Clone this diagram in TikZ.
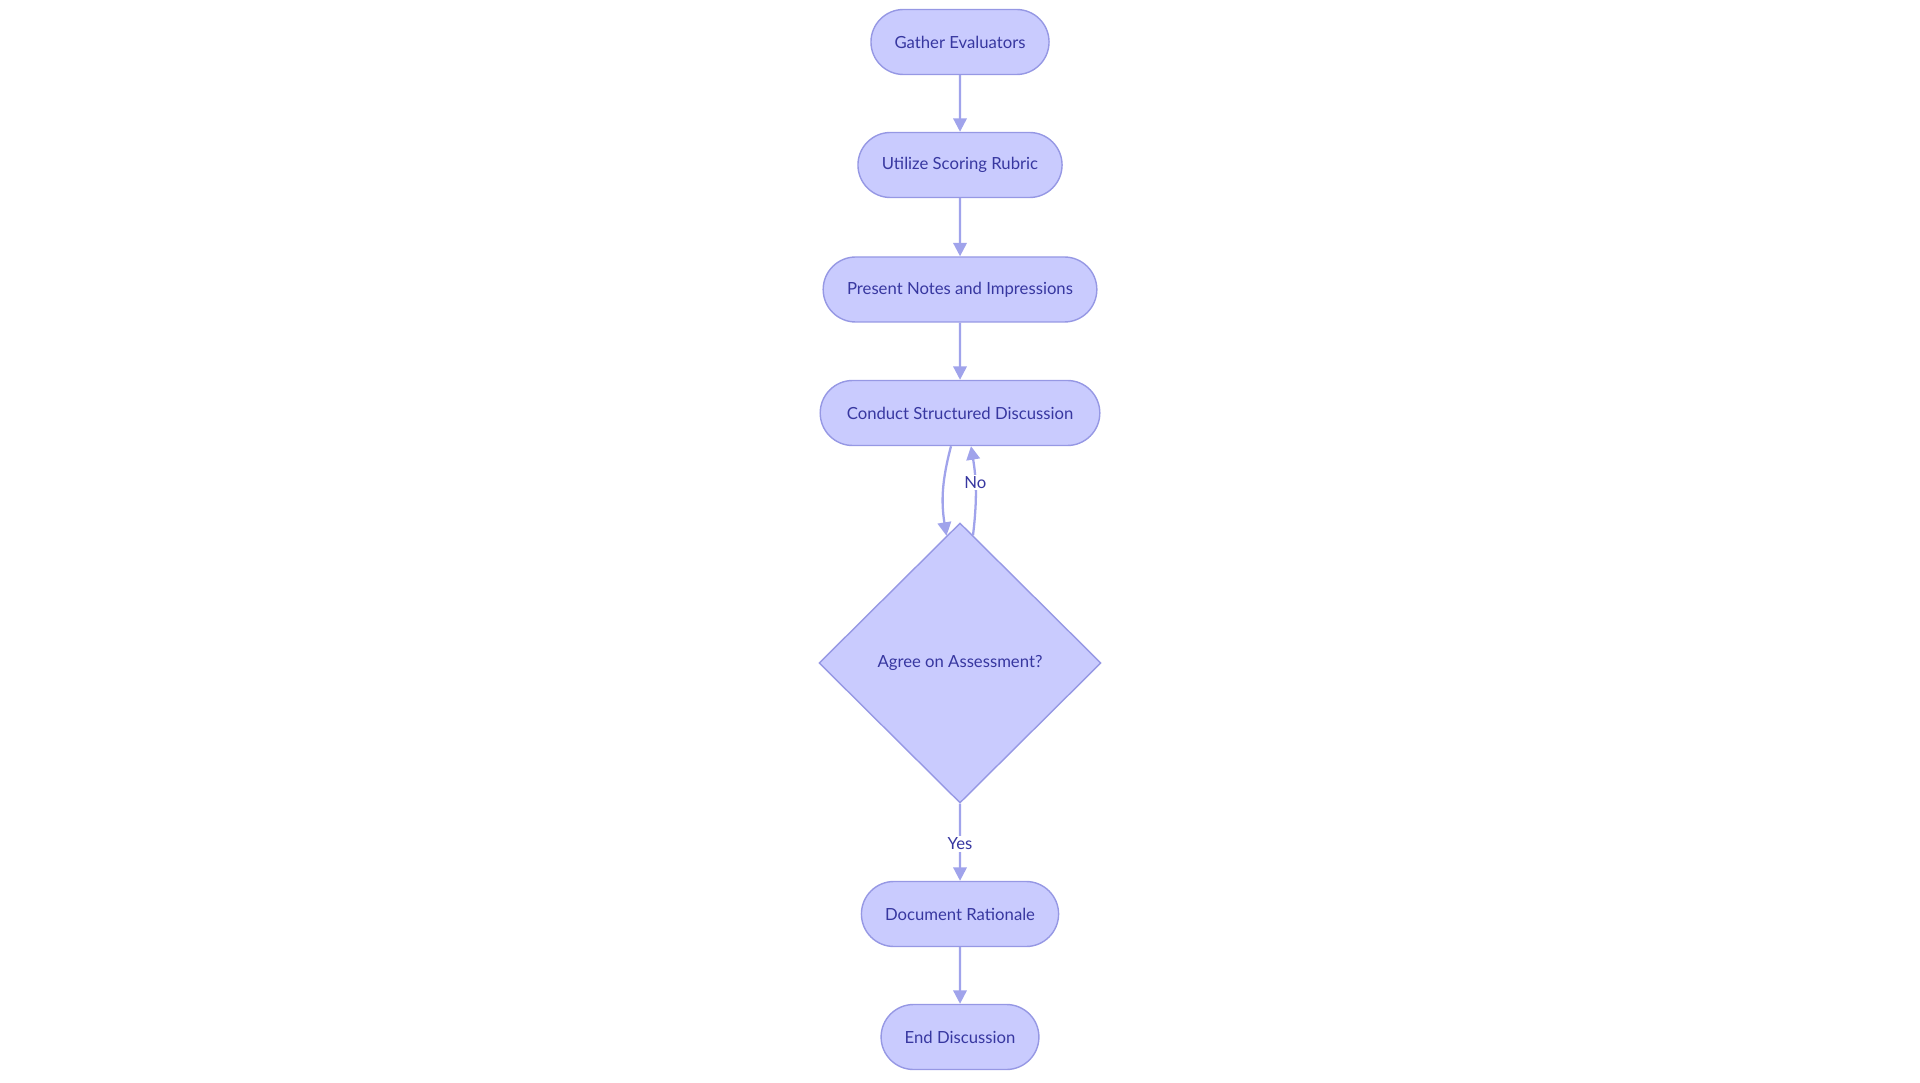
\documentclass[tikz,border=0pt]{standalone}
\usepackage{fontspec}
\setmainfont{Lato}
\usepackage{xcolor}
\usepackage{tikz}
\usetikzlibrary{shapes.geometric, shapes.misc, arrows.meta, positioning}

\definecolor{nodefill}{RGB}{201,203,254}
\definecolor{nodeline}{RGB}{150,152,228}
\definecolor{nodetext}{RGB}{55,55,160}
\definecolor{arrowline}{RGB}{160,163,235}

\begin{document}
\begin{tikzpicture}[
    stage/.style={rounded rectangle, draw=nodeline, fill=nodefill, line width=0.8pt, text=nodetext, minimum height=1.3cm, inner xsep=0.46cm, font=\fontsize{9.5}{12}\selectfont},
    decision/.style={diamond, draw=nodeline, fill=nodefill, line width=0.8pt, text=nodetext, minimum width=5.64cm, minimum height=5.6cm, inner sep=0pt, font=\fontsize{9.5}{12}\selectfont},
    flow/.style={draw=arrowline, line width=1.3pt, -{Triangle[length=0.27cm, width=0.27cm]}},
    answer/.style={fill=white, text=nodetext, inner sep=1pt, font=\fontsize{9.5}{12}\selectfont}
]

    \useasboundingbox (0,0) rectangle (38.4,-21.66);

    \node[stage] (gather) at (19.2,-0.84) {Gather Evaluators};
    \node[stage] (rubric) at (19.2,-3.30) {Utilize Scoring Rubric};
    \node[stage] (notes) at (19.2,-5.79) {Present Notes and Impressions};
    \node[stage, inner xsep=0.52cm] (discuss) at (19.2,-8.26) {Conduct Structured Discussion};
    \node[decision] (agree) at (19.2,-13.26) {Agree on Assessment?};
    \node[stage] (rationale) at (19.2,-18.28) {Document Rationale};
    \node[stage] (finish) at (19.2,-20.74) {End Discussion};

    \draw[flow] (gather) -- (rubric);
    \draw[flow] (rubric) -- (notes);
    \draw[flow] (notes) -- (discuss);
    \draw[flow] ([xshift=-0.18cm]discuss.south) to[bend right=12] ([xshift=-0.27cm, yshift=-0.27cm]agree.north);
    \draw[flow] ([xshift=0.26cm, yshift=-0.26cm]agree.north) to[bend right=8] node[answer, pos=0.6] {No} ([xshift=0.22cm]discuss.south);
    \draw[flow] (agree) -- node[answer, pos=0.52] {Yes} (rationale);
    \draw[flow] (rationale) -- (finish);
\end{tikzpicture}
\end{document}
